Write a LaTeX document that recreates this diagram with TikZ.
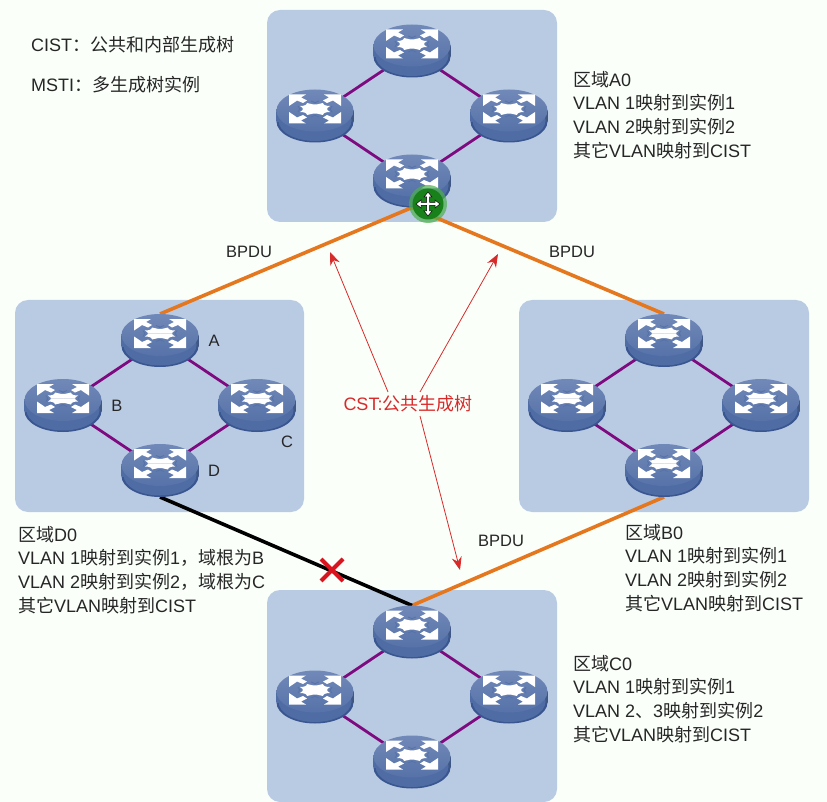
\documentclass[tikz,border=0pt]{standalone}
\usepackage{fontspec}
\setmainfont{Liberation Sans}
\newfontfamily\cjk{Noto Sans CJK SC}
\usetikzlibrary{shapes.geometric,arrows.meta}
\pgfdeclarelayer{boxes}\pgfdeclarelayer{links}
\pgfsetlayers{boxes,links,main}
\definecolor{regionfill}{HTML}{B9CAE3}
\definecolor{routertopa}{HTML}{7189B8}
\definecolor{routertopb}{HTML}{5672A8}
\definecolor{routersidea}{HTML}{4F6CA4}
\definecolor{routersideb}{HTML}{3A5690}
\definecolor{linkpurple}{HTML}{7E0A80}
\definecolor{linkorange}{HTML}{E5781F}
\definecolor{crossred}{HTML}{D8141E}
\definecolor{textred}{HTML}{D92A2A}
\newcommand{\C}[1]{{\cjk #1}}
\tikzset{
  x=1pt,y=-1pt,
  routernode/.style={ellipse,minimum width=77pt,minimum height=53pt,inner sep=0pt,outer sep=0pt},
  regionbox/.style={fill=regionfill,rounded corners=13pt},
  lan/.style={linkpurple,line width=2.8pt},
  bpdulink/.style={linkorange,line width=3.6pt},
  blocked/.style={black,line width=3.6pt},
  redarrow/.style={textred,line width=.8pt,-{Stealth[length=13pt,width=10pt]}},
  lbl/.style={font=\fontsize{18}{23.7}\selectfont,align=left,anchor=west,inner sep=0pt,text=black!85},
  clbl/.style={font=\fontsize{16.5}{20}\selectfont,inner sep=0pt,text=black!85},
}
% router drawing, centred on the named node
\newcommand{\quarter}[2]{%
  \begin{scope}[xscale=#1,yscale=#2]
    \fill[white] (-26,-14.5) -- (-9,-14.5) -- (-14,-11.5) -- (-8,-8.5) -- (-12,-6) -- (-18,-8.5) -- (-20,-7) -- (-26,-3) -- cycle;
    \fill[white] (0,0) -- (0,-4.5) .. controls (-4,-4.5) and (-6,-6) .. (-8,-6) .. controls (-8,-4) and (-11,-3) .. (-15,-3) .. controls (-13,-1.5) and (-12,-1) .. (-12,0) -- cycle;
    \draw[routertopb,line width=.8pt] (-4,-8) .. controls (-1,-8) and (-2,-6) .. (1,-6);
    \draw[routertopb,line width=.8pt] (-17,-3) .. controls (-15,-1) and (-16,0) .. (-15,1);
  \end{scope}}
\newcommand{\router}[2]{%
  \node[routernode] (#1) at (#2) {};
  \begin{scope}[shift={(#1.center)}]
    \fill[routersideb] (0,5.5) ellipse[x radius=38.5,y radius=21];
    \shade[left color=routersidea,right color=routersidea!80!black,middle color=routersidea] (-38.5,-5.5) rectangle (38.5,5.5);
    \fill[routersidea] (0,4.5) ellipse[x radius=36.5,y radius=20.5];
    \shade[top color=routertopa,bottom color=routertopb] (0,-5.5) ellipse[x radius=38.5,y radius=21];
    \begin{scope}[shift={(0,-7)}]
      \quarter{1}{1}\quarter{-1}{1}\quarter{1}{-1}\quarter{-1}{-1}
    \end{scope}
  \end{scope}}
\newcommand{\diamondnet}[3]{% prefix, cx, cy
  \router{#1t}{#2,#3-65}
  \router{#1l}{#2-97,#3}
  \router{#1r}{#2+97,#3}
  \router{#1b}{#2,#3+65}
  \begin{pgfonlayer}{links}
    \draw[lan] (#1t.center) -- (#1l.center) -- (#1b.center) -- (#1r.center) -- cycle;
  \end{pgfonlayer}}
\begin{document}
\begin{tikzpicture}
\useasboundingbox (0,0) rectangle (827,802);
\begin{pgfonlayer}{boxes}
  \fill[white!97!green!60!white] (0,0) rectangle (827,802);
  \fill[regionbox] (267,10) rectangle (557,222);
  \fill[regionbox] (15,300) rectangle (304,512);
  \fill[regionbox] (519,300) rectangle (809,512);
  \fill[regionbox] (267,590) rectangle (557,802);
\end{pgfonlayer}

\diamondnet{a}{412}{116}
\diamondnet{d}{160}{405.5}
\diamondnet{e}{664}{405.5}
\diamondnet{c}{412}{697}

\begin{pgfonlayer}{links}
  \draw[bpdulink] (ab.south) -- (dt.north);
  \draw[bpdulink] (ab.south) -- (et.north);
  \draw[bpdulink] (eb.south) -- (ct.north);
  \draw[blocked] (db.south) -- (ct.north);
\end{pgfonlayer}

% cursor
\node[circle,fill=green!55!black!70,opacity=.7,minimum size=38pt,inner sep=0pt] (cursorhalo) at (428,204) {};
\node[circle,fill=green!45!black!90,minimum size=31pt,inner sep=0pt] (cursorcore) at (428,204) {};
\draw[draw=black,line width=.5pt,fill=white,shift={(cursorcore.center)}]
 (0,-12) -- (4,-7) -- (1.5,-7) -- (1.5,-1.5) -- (7,-1.5) -- (7,-4) -- (12,0) -- (7,4) -- (7,1.5) -- (1.5,1.5) -- (1.5,7) -- (4,7) -- (0,12) -- (-4,7) -- (-1.5,7) -- (-1.5,1.5) -- (-7,1.5) -- (-7,4) -- (-12,0) -- (-7,-4) -- (-7,-1.5) -- (-1.5,-1.5) -- (-1.5,-7) -- (-4,-7) -- cycle;

% red X
\coordinate (xc) at (332,570);
\draw[crossred,line width=4pt] ([shift={(-11,-11)}]xc) -- ([shift={(11,11)}]xc) ([shift={(11,-11)}]xc) -- ([shift={(-11,11)}]xc);

% CST label and arrows
\node[clbl,text=textred,font=\fontsize{18}{20}\selectfont] (cst) at (408,404) {CST:\C{公共生成树}};
\coordinate (s1) at (388,392); \coordinate (t1) at (330,252);
\coordinate (s2) at (420,392); \coordinate (t2) at (498,254);
\coordinate (s3) at (420,416); \coordinate (t3) at (460,570);
\draw[redarrow] (s1) -- (t1);
\draw[redarrow] (s2) -- (t2);
\draw[redarrow] (s3) -- (t3);

% labels
\node[lbl] (legend1) at (31,45) {CIST\C{：公共和内部生成树}};
\node[lbl] (legend2) at (31,85) {MSTI\C{：多生成树实例}};
\node[clbl] (bp1) at (249,252) {BPDU};
\node[clbl] (bp2) at (572,252) {BPDU};
\node[clbl] (bp3) at (501,541) {BPDU};
\node[clbl] (la) at (214,341) {A};
\node[clbl] (lb) at (117,406) {B};
\node[clbl] (lc) at (287,442) {C};
\node[clbl] (ld) at (214,471) {D};
\node[lbl] (ra) at (573,115) {\C{区域}A0\\VLAN 1\C{映射到实例}1\\VLAN 2\C{映射到实例}2\\\C{其它}VLAN\C{映射到}CIST};
\node[lbl] (rd) at (18,570) {\C{区域}D0\\VLAN 1\C{映射到实例}1\C{，域根为}B\\VLAN 2\C{映射到实例}2\C{，域根为}C\\\C{其它}VLAN\C{映射到}CIST};
\node[lbl] (rb) at (625,568) {\C{区域}B0\\VLAN 1\C{映射到实例}1\\VLAN 2\C{映射到实例}2\\\C{其它}VLAN\C{映射到}CIST};
\node[lbl] (rc) at (573,699) {\C{区域}C0\\VLAN 1\C{映射到实例}1\\VLAN 2\C{、}3\C{映射到实例}2\\\C{其它}VLAN\C{映射到}CIST};
\end{tikzpicture}
\end{document}
